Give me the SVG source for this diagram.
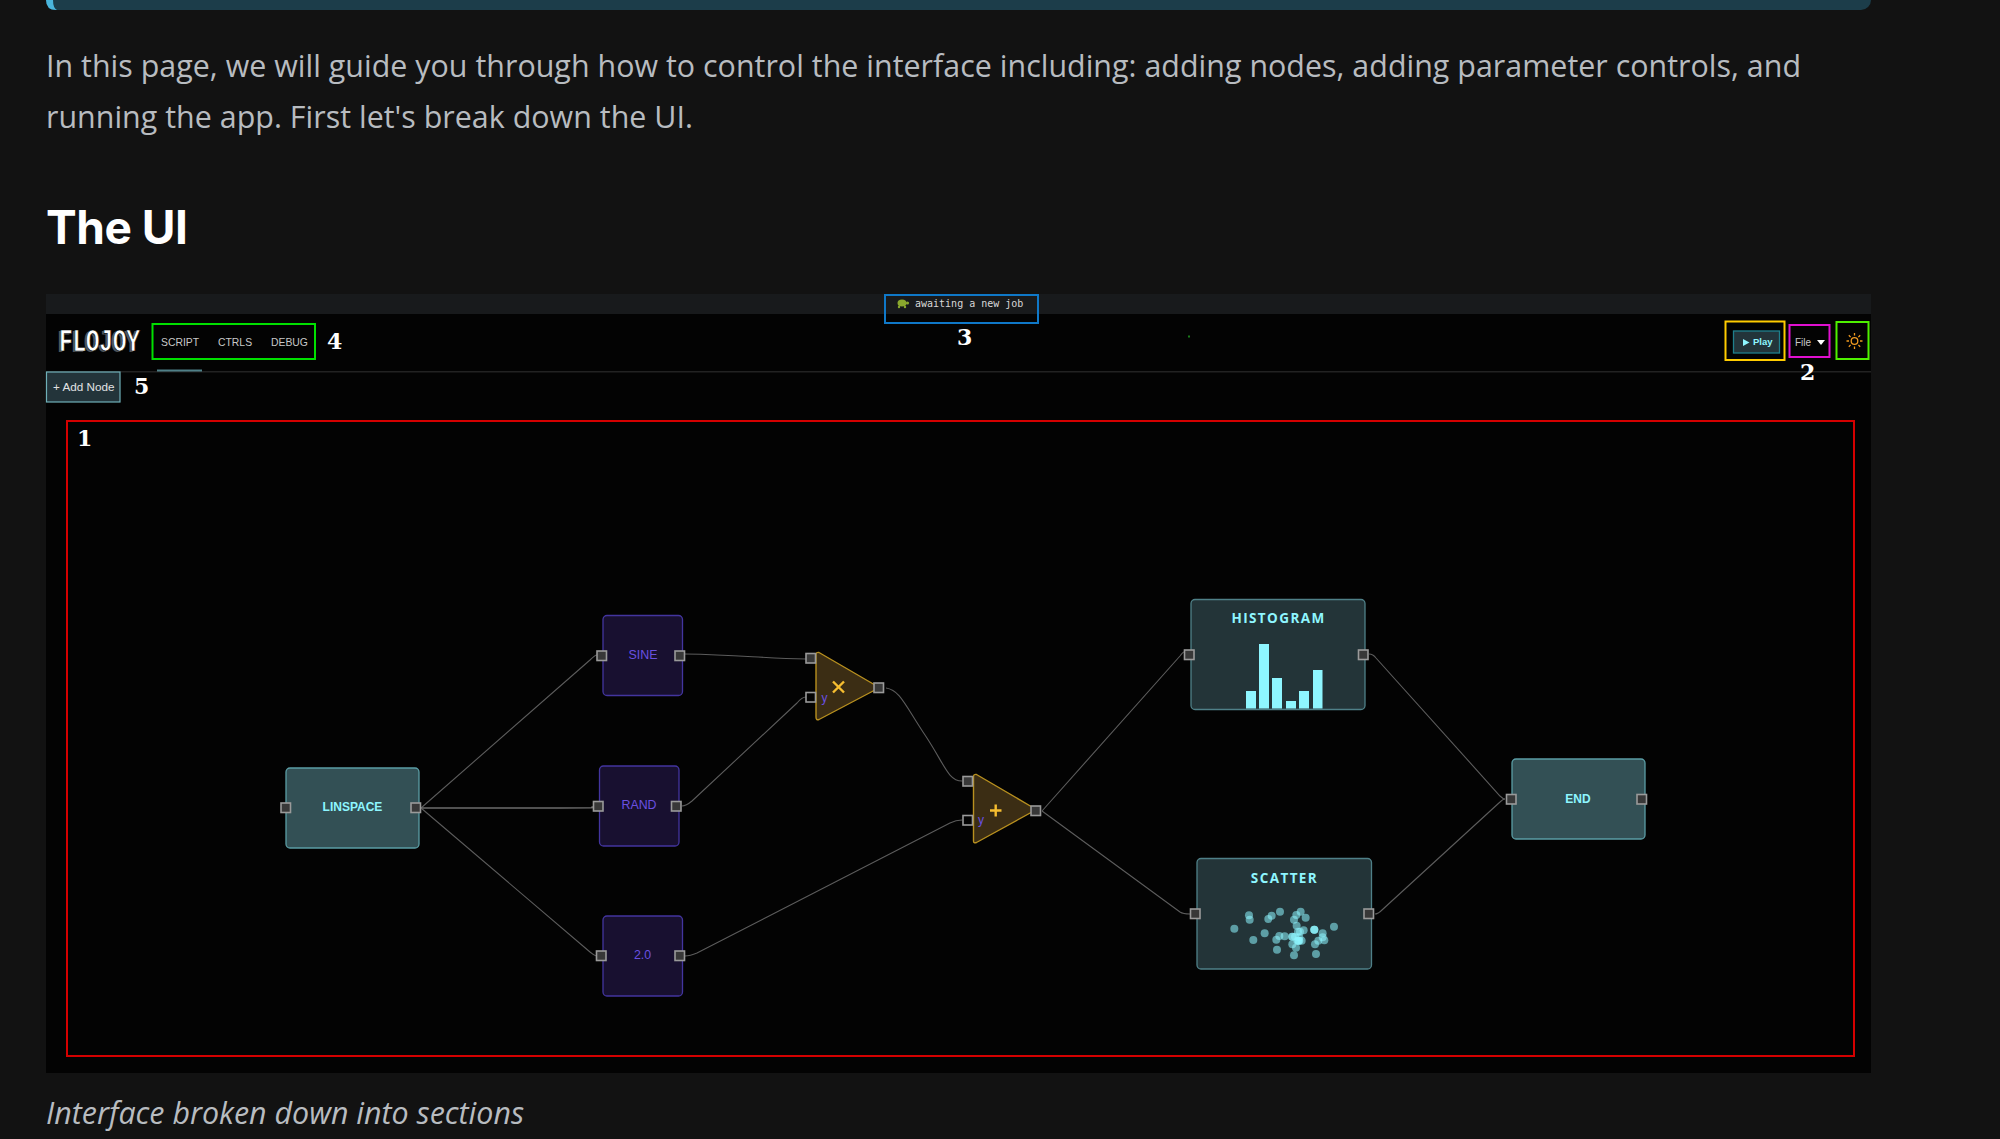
<svg xmlns="http://www.w3.org/2000/svg" width="2000" height="1139" viewBox="0 0 2000 1139">
<defs><style>
.body{font-family:"Open Sans","Noto Sans",sans-serif;fill:#b8bcc0;font-size:30.400px}
.num{font-family:"DejaVu Serif",serif;font-weight:700;font-size:22px;fill:#fff}
.tab{font-family:"Liberation Sans",sans-serif;font-size:10.400px;fill:#c8c8c8}
.port{fill:#383838;stroke:#9a9a9a;stroke-width:1.6}
.edge{fill:none;stroke:#5c5c5c;stroke-width:1.1}
.dark{fill:#335055;stroke:#5b9da5;stroke-width:1.3}
.viz{fill:#233438;stroke:#4f8088;stroke-width:1.3}
.func{fill:#181030;stroke:#43359f;stroke-width:1.3}
.op{fill:#3b2d14;stroke:#b8901f;stroke-width:1.4;stroke-linejoin:round}
.lab{font-family:"Liberation Sans",sans-serif;text-anchor:middle}
.cy{fill:#8ef6ff;font-weight:700;font-size:12px}
.pu{fill:#6a50e0;font-size:12.400px}
.ttl{font-family:"Open Sans",sans-serif;font-weight:700;font-size:13.500px;letter-spacing:1.400px;text-anchor:middle;fill:#8ef6ff}
.yl{font-family:"Liberation Sans",sans-serif;font-size:12px;fill:#6a50e0}
.bar{fill:#8ef6ff}
.dot{fill:#8ef6ff;fill-opacity:.55}
.box{fill:none;stroke-width:2}
.logo{font-family:"Liberation Mono",monospace;font-weight:700;font-size:23px}
</style></defs>
<rect width="2000" height="1139" fill="#121212"/>
<path d="M46 0H1871V0a10 10 0 0 1-10 10H56a10 10 0 0 1-10-10Z" fill="#1c3d4a"/>
<path d="M46 0H53Q53 8 57 10H56Q46 10 46 0Z" fill="#4ab5dc"/>
<text class="body" x="46" y="77" textLength="1755">In this page, we will guide you through how to control the interface including: adding nodes, adding parameter controls, and</text>
<text class="body" x="46" y="127.500" textLength="647">running the app. First let's break down the UI.</text>
<text x="46" y="244" font-family="Inter,sans-serif" font-weight="700" font-size="46" fill="#fff" textLength="142">The UI</text>
<text x="46" y="1124" font-family="'Open Sans','Noto Sans',sans-serif" font-style="italic" font-size="30.400" fill="#b8bcc0" textLength="478">Interface broken down into sections</text>

<g id="panel">
<rect x="46" y="294" width="1825" height="779" fill="#030303"/>
<rect x="46" y="294" width="1825" height="20" fill="#181a1c"/>
<rect x="46" y="371" width="1825" height="1.500" fill="#222"/>
<rect x="157" y="369.500" width="45" height="2" fill="#4f8088"/>
<rect x="1188" y="335.500" width="2" height="2" fill="#1a7a1a"/>
</g>
<g id="logo">
<text class="logo" transform="translate(57 352) scale(1 1.350)" fill="#50565c" textLength="81">FLOJOY</text>
<text class="logo" transform="translate(59 351) scale(1 1.350)" fill="#fff" stroke="#000" stroke-width=".5" textLength="81">FLOJOY</text>
</g>
<g id="tabs">
<rect class="box" x="152.500" y="324" width="162.500" height="35" stroke="#00e000"/>
<text class="tab" x="161" y="346">SCRIPT</text><text class="tab" x="218" y="346">CTRLS</text><text class="tab" x="271" y="346">DEBUG</text>
<text class="num" x="327" y="349">4</text>
</g>
<g id="add-node">
<rect x="46.500" y="372" width="73.500" height="30" fill="#23343a" stroke="#6fb0b8" stroke-width="1.200"/>
<text x="53" y="390.500" font-family="'Liberation Sans',sans-serif" font-size="11.700" fill="#e0e2e3">+ Add Node</text>
<text class="num" x="134" y="394">5</text>
</g>
<g id="status">
<rect class="box" x="885" y="295" width="153" height="28" stroke="#0f78c8"/>
<g fill="#8aa82e"><ellipse cx="902" cy="303" rx="4.500" ry="3.500"/><circle cx="907.500" cy="303" r="1.600"/><circle cx="899" cy="307" r="1.200"/><circle cx="905" cy="307" r="1.200"/></g>
<text x="915" y="307" font-family="'DejaVu Sans Mono',monospace" font-size="10" fill="#d8d8d8">awaiting a new job</text>
<text class="num" x="957" y="345">3</text>
</g>
<g id="controls">
<rect class="box" x="1725.500" y="321.500" width="59" height="38.500" stroke="#ffcc00"/>
<rect x="1733.500" y="331" width="46" height="22" fill="#23343a" stroke="#1f7f8c" stroke-width="1.300"/>
<path d="M1743 339l6.500 3.500-6.500 3.500Z" fill="#8ef6ff"/>
<text x="1753" y="345" font-family="'Liberation Sans',sans-serif" font-weight="700" font-size="9.500" fill="#8ef6ff">Play</text>
<rect class="box" x="1789.500" y="325" width="40" height="32" stroke="#e010d0"/>
<text x="1795" y="346" font-family="'Liberation Sans',sans-serif" font-size="10" fill="#c8c8c8">File</text>
<path d="M1817 340h8l-4 5Z" fill="#fff"/>
<rect class="box" x="1836.500" y="322" width="32" height="37" stroke="#4ef000"/>
<g stroke="#f09a20" stroke-width="1.300" fill="none"><circle cx="1854.500" cy="341" r="3.300"/><path d="M1854.500 333v2.500M1854.500 346.500v2.500M1846.500 341h2.500M1860 341h2.500M1848.800 335.300l1.800 1.800M1858.400 344.900l1.800 1.800M1860.200 335.300l-1.800 1.800M1850.600 344.900l-1.800 1.800"/></g>
<text class="num" x="1800" y="380">2</text>
</g>
<g id="canvas">
<rect x="67" y="421" width="1787" height="635" fill="none" stroke="#d40000" stroke-width="2"/>
<text class="num" x="77" y="446">1</text>
</g>
<g id="connectors">
<path class="edge" d="M421 808L590 660Q595 655 597 655"/>
<path class="edge" d="M421 808C480 808 500 808 560 808S585 807 593 807" style="stroke:#6c6c6c;stroke-width:1.300"/>
<path class="edge" d="M421 808L590 952Q595 956 597 956"/>
<path class="edge" d="M685 654C740 655 760 658 806 659"/>
<path class="edge" d="M682 806Q686 806 692 801L797 703Q802 697 806 697"/>
<path class="edge" d="M685 956Q690 956 697 953L950 823Q956 820 962 820"/>
<path class="edge" d="M886 688C900 690 905 705 925 735S948 781 962 781"/>
<path class="edge" d="M1042 811L1180 656Q1183 652 1184 652"/>
<path class="edge" d="M1042 811L1180 912Q1183 914 1190 914"/>
<path class="edge" d="M1369 654Q1373 654 1376 658L1500 796Q1503 799 1505 799"/>
<path class="edge" d="M1375 914Q1378 914 1382 910L1500 802Q1503 799 1505 799"/>
</g>
<g id="n-linspace"><rect class="dark" x="286" y="768" width="133" height="80" rx="4"/><text class="lab cy" x="352.500" y="810.500">LINSPACE</text><rect class="port" x="281" y="803" width="9.500" height="9.500"/><rect class="port" x="411" y="803" width="9.500" height="9.500"/></g>
<g id="n-sine"><rect class="func" x="603" y="615.500" width="79.500" height="80" rx="4"/><text class="lab pu" x="643" y="659">SINE</text><rect class="port" x="597" y="651" width="9.500" height="9.500"/><rect class="port" x="675" y="651" width="9.500" height="9.500"/></g>
<g id="n-rand"><rect class="func" x="599.500" y="766" width="79.500" height="80" rx="4"/><text class="lab pu" x="639" y="809">RAND</text><rect class="port" x="593.500" y="801.500" width="9.500" height="9.500"/><rect class="port" x="671.500" y="801.500" width="9.500" height="9.500"/></g>
<g id="n-const"><rect class="func" x="603" y="916" width="79.500" height="80" rx="4"/><text class="lab pu" x="642.500" y="959">2.0</text><rect class="port" x="596.500" y="951" width="9.500" height="9.500"/><rect class="port" x="675" y="951" width="9.500" height="9.500"/></g>
<g id="n-multiply"><path class="op" d="M816 654.500Q816 652 819 652.500L875 685Q878 688 875 690L819 719.500Q816 720.500 816 717Z"/>
<path d="M833 681.500L844 692.500M844 681.500L833 692.500" stroke="#f5bd30" stroke-width="2.400" fill="none"/>
<text class="yl" x="821.500" y="702">y</text>
<rect class="port" x="806" y="653.500" width="9.500" height="9.500"/><rect class="port" x="806" y="692.500" width="9.500" height="9.500" style="fill:#030303"/><rect class="port" x="874" y="683" width="9.500" height="9.500"/></g>
<g id="n-add"><path class="op" d="M973.500 776.500Q973.500 774 976.500 774.500L1032 807Q1035 810 1032 812L976.500 842.500Q973.500 843.500 973.500 841Z"/>
<path d="M990 810.500H1001.500M995.700 804.500V816.500" stroke="#f5bd30" stroke-width="2.400" fill="none"/>
<text class="yl" x="978" y="824">y</text>
<rect class="port" x="963" y="776.500" width="9.500" height="9.500"/><rect class="port" x="963" y="815.500" width="9.500" height="9.500" style="fill:#030303"/><rect class="port" x="1031" y="806" width="9.500" height="9.500"/></g>
<g id="n-histogram"><rect class="viz" x="1191" y="599.500" width="174" height="110" rx="4"/><text class="ttl" x="1278.500" y="623">HISTOGRAM</text>
<rect class="bar" x="1246" y="691" width="10" height="17.500"/><rect class="bar" x="1259" y="644" width="10" height="64.500"/><rect class="bar" x="1272" y="678" width="10" height="30.500"/><rect class="bar" x="1286" y="701" width="10" height="7.500"/><rect class="bar" x="1299" y="691" width="10" height="17.500"/><rect class="bar" x="1313" y="670" width="9.500" height="38.500"/>
<rect class="port" x="1184.500" y="650" width="9.500" height="9.500"/><rect class="port" x="1358.500" y="650" width="9.500" height="9.500"/></g>
<g id="n-scatter"><rect class="viz" x="1197" y="858.500" width="174.500" height="110.500" rx="4"/><text class="ttl" x="1284.500" y="883">SCATTER</text>
<g transform="translate(1180 850) scale(.3333)">
<circle class="dot" cx="163" cy="236" r="12"/><circle class="dot" cx="207" cy="196" r="12"/><circle class="dot" cx="209" cy="209" r="12"/><circle class="dot" cx="265" cy="207" r="12"/><circle class="dot" cx="275" cy="197" r="12"/><circle class="dot" cx="300" cy="185" r="12"/><circle class="dot" cx="254" cy="250" r="12"/><circle class="dot" cx="220" cy="270" r="12"/><circle class="dot" cx="289" cy="269" r="12"/><circle class="dot" cx="298" cy="258" r="12"/><circle class="dot" cx="314" cy="259" r="12"/><circle class="dot" cx="291" cy="299" r="12"/><circle class="dot" cx="342" cy="316" r="12"/><circle class="dot" cx="408" cy="312" r="12"/><circle class="dot" cx="348" cy="293" r="12"/><circle class="dot" cx="337" cy="283" r="12"/><circle class="dot" cx="336" cy="260" r="12"/><circle class="dot" cx="354" cy="245" r="12"/><circle class="dot" cx="350" cy="227" r="12"/><circle class="dot" cx="342" cy="209" r="12"/><circle class="dot" cx="349" cy="195" r="12"/><circle class="dot" cx="362" cy="185" r="12"/><circle class="dot" cx="377" cy="203" r="12"/><circle class="dot" cx="371" cy="241" r="12"/><circle class="dot" cx="403" cy="239" r="12"/><circle class="dot" cx="403" cy="239" r="12"/><circle class="dot" cx="403" cy="239" r="12"/><circle class="dot" cx="428" cy="250" r="12"/><circle class="dot" cx="462" cy="230" r="12"/><circle class="dot" cx="433" cy="271" r="12"/><circle class="dot" cx="428" cy="262" r="12"/><circle class="dot" cx="415" cy="272" r="12"/><circle class="dot" cx="405" cy="283" r="12"/><circle class="dot" cx="355" cy="272" r="12"/><circle class="dot" cx="365" cy="272" r="12"/><circle class="dot" cx="358" cy="272" r="12"/><circle class="dot" cx="358" cy="262" r="12"/><circle class="dot" cx="345" cy="260" r="12"/><circle class="dot" cx="352" cy="272" r="12"/><circle class="dot" cx="360" cy="245" r="12"/><circle class="dot" cx="338" cy="260" r="12"/><circle class="dot" cx="356" cy="272" r="12"/>
</g>
<rect class="port" x="1190.500" y="909" width="9.500" height="9.500"/><rect class="port" x="1364" y="909" width="9.500" height="9.500"/></g>
<g id="n-end"><rect class="dark" x="1512" y="759" width="133" height="80" rx="4"/><text class="lab cy" x="1578" y="802.500">END</text><rect class="port" x="1506.500" y="794.500" width="9.500" height="9.500"/><rect class="port" x="1637" y="794.500" width="9.500" height="9.500"/></g>
</svg>
